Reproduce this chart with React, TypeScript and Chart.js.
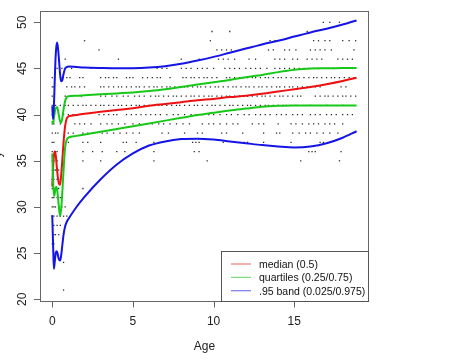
import { useEffect, useRef } from 'react';
import { Chart, registerables } from 'chart.js';

Chart.register(...registerables);

// ---- axis ticks / titles ----
const xTicks = [0, 5, 10, 15];
const yTicks = [20, 25, 30, 35, 40, 45, 50];
const xTitle = 'Age';
const yTitle = 'y';
const legendLabels = ['median (0.5)', 'quartiles (0.25/0.75)', '.95 band (0.025/0.975)'];

// ---- fitted quantile curves ----
const curveAge = [0, 0.05, 0.1, 0.15, 0.2, 0.25, 0.31, 0.4, 0.48, 0.54, 0.62, 0.7, 0.8, 0.9, 1.0, 1.5, 2, 3, 4, 5, 6, 7, 8, 9, 10, 11, 12, 13, 14, 15, 16, 17, 18, 18.86];
const q975 = [40.9, 39.5, 40.8, 43.5, 46.0, 47.3, 47.8, 46.3, 44.5, 43.6, 43.7, 44.4, 45.0, 45.15, 45.2, 45.15, 45.1, 45.05, 45.02, 45.03, 45.1, 45.25, 45.5, 45.85, 46.25, 46.7, 47.15, 47.6, 48.0, 48.45, 48.9, 49.3, 49.75, 50.2];
const q025 = [29.1, 26.0, 23.3, 24.0, 24.8, 25.2, 25.1, 24.4, 24.2, 24.6, 25.8, 27.0, 27.9, 28.4, 28.7, 30.0, 31.1, 33.0, 34.6, 35.8, 36.65, 37.1, 37.35, 37.4, 37.3, 37.1, 36.9, 36.7, 36.55, 36.45, 36.55, 36.9, 37.5, 38.2];
const q50 = [32.2, 34.2, 35.5, 36.0, 35.8, 35.0, 33.8, 32.6, 32.4, 33.2, 35.0, 37.0, 38.8, 39.6, 39.8, 39.95, 40.1, 40.3, 40.5, 40.7, 40.95, 41.15, 41.35, 41.55, 41.7, 41.9, 42.05, 42.25, 42.5, 42.75, 43.0, 43.3, 43.65, 44.0];
const q75 = [39.3, 39.0, 39.6, 40.2, 40.6, 40.8, 40.8, 40.0, 39.3, 39.1, 39.6, 40.6, 41.5, 41.9, 42.0, 42.05, 42.1, 42.2, 42.3, 42.4, 42.55, 42.75, 43.0, 43.25, 43.5, 43.75, 44.05, 44.3, 44.6, 44.85, 45.0, 45.02, 45.04, 45.05];
const q25 = [35.8, 33.0, 31.2, 31.4, 32.0, 32.2, 31.8, 30.2, 29.0, 29.6, 31.5, 34.0, 36.5, 37.3, 37.5, 37.7, 37.85, 38.15, 38.45, 38.75, 39.05, 39.35, 39.65, 39.95, 40.2, 40.45, 40.65, 40.85, 40.95, 41.0, 41.0, 41.0, 41.0, 41.0];

// ---- observations: ages recorded at each (integer) y value ----
const row50 = [16.8, 17.2, 17.8];
const row49 = [9.9, 11.0, 15.8];
const row48 = [2.0, 9.8, 13.5, 13.8, 16.2, 16.5, 16.9, 17.2, 18.0, 18.4, 18.8];
const row47 = [2.9, 10.2, 10.5, 10.8, 11.1, 13.4, 13.7, 14.4, 14.7, 15.1, 16.0, 16.3, 16.6, 16.9, 17.3, 18.7];
const row46 = [0.8, 4.1, 8.0, 9.1, 10.3, 10.6, 10.9, 11.3, 12.2, 12.6, 13.8, 14.1, 14.4, 14.9, 15.2, 15.8, 16.1, 16.4, 16.7, 17.7, 18.0, 18.3, 18.6];
const row45 = [0.3, 0.6, 1.2, 2.4, 3.5, 5.0, 6.5, 6.8, 7.1, 8.0, 8.3, 8.6, 9.0, 9.3, 9.6, 10.0, 10.7, 11.0, 11.3, 11.6, 12.0, 12.3, 12.6, 12.9, 13.3, 13.8, 14.1, 14.4, 14.7, 15.0, 15.3, 15.6, 15.9, 16.2, 16.5, 16.8, 17.1, 17.4, 17.7, 18.0, 18.3, 18.6];
const row44 = [0.0, 0.6, 0.9, 1.1, 1.7, 1.9, 3.0, 3.3, 3.5, 3.8, 4.0, 4.6, 4.8, 5.0, 5.6, 5.9, 6.2, 6.5, 6.7, 7.3, 8.1, 8.3, 8.6, 8.8, 9.1, 9.4, 9.6, 9.9, 10.2, 10.8, 11.0, 11.3, 11.6, 11.8, 12.1, 12.4, 12.6, 12.9, 13.2, 13.4, 13.7, 14.0, 14.2, 14.5, 14.8, 15.1, 15.3, 15.6, 15.9, 16.2, 16.4, 16.7, 17.0, 17.3, 17.5, 17.8, 18.1, 18.4, 18.7];
const row43 = [0.0, 0.1, 0.9, 1.2, 1.4, 1.7, 2.0, 3.0, 3.2, 3.5, 3.8, 4.1, 4.3, 4.6, 4.9, 5.2, 5.4, 5.7, 6.0, 6.3, 6.5, 6.8, 7.1, 7.3, 7.6, 7.9, 8.2, 8.4, 8.7, 9.0, 9.2, 9.5, 9.8, 10.1, 10.3, 10.6, 10.9, 11.2, 11.4, 11.7, 12.0, 12.2, 12.5, 12.8, 13.0, 13.3, 13.6, 13.9, 14.1, 14.4, 14.7, 14.9, 15.2, 15.5, 15.8, 16.0, 16.3, 16.6, 17.9, 18.2];
const row42 = [0.0, 0.8, 1.8, 3.0, 3.3, 3.7, 4.0, 4.4, 4.7, 5.1, 5.4, 5.7, 6.1, 6.4, 6.6, 6.9, 7.2, 7.5, 7.7, 8.0, 8.3, 8.6, 8.8, 9.1, 9.4, 9.7, 9.9, 10.2, 10.5, 10.8, 11.0, 11.3, 11.6, 11.9, 12.1, 12.4, 12.7, 13.0, 13.2, 13.5, 13.8, 14.1, 14.3, 14.6, 14.9, 15.2, 15.4, 16.3, 16.6, 16.9, 17.1, 17.4, 17.7, 18.0, 18.2, 18.5, 18.8];
const row41 = [0.0, 0.2, 0.5, 0.8, 1.0, 1.3, 1.6, 1.9, 2.1, 2.4, 2.7, 3.0, 3.2, 3.5, 3.8, 4.1, 4.3, 4.6, 4.9, 5.2, 5.4, 5.7, 6.0, 6.3, 6.6, 6.8, 7.1, 7.4, 7.7, 7.9, 8.2, 8.5, 8.8, 9.0, 9.3, 9.6, 9.9, 10.1, 10.4, 10.7, 11.0, 11.2, 11.5, 11.8, 12.1, 12.3, 12.6, 12.9, 13.2, 13.4, 13.7, 14.0, 14.3, 14.5, 14.8, 15.1, 16.0, 17.0, 18.0];
const row40 = [0.0, 0.7, 1.0, 1.3, 2.9, 3.2, 3.5, 3.8, 4.0, 4.6, 4.9, 5.2, 5.5, 5.8, 6.1, 6.4, 6.7, 7.1, 7.5, 7.8, 8.2, 8.6, 8.9, 9.3, 9.7, 10.0, 10.4, 10.8, 11.1, 11.5, 11.9, 12.2, 12.6, 12.9, 13.2, 13.5, 13.9, 14.2, 14.5, 14.9, 15.2, 15.5, 16.0, 16.3, 16.6, 17.0, 17.3, 17.6, 18.0, 18.3, 18.6];
const row39 = [0.0, 0.1, 0.5, 1.4, 1.7, 2.0, 2.4, 3.0, 3.4, 3.7, 4.1, 4.5, 5.0, 5.4, 5.8, 6.2, 6.6, 6.9, 7.3, 7.7, 8.1, 8.5, 9.3, 9.7, 10.0, 10.4, 10.8, 11.2, 11.5, 12.4, 12.8, 13.1, 14.0, 14.8, 15.1, 15.5, 15.9, 16.2, 16.5, 16.9, 17.2, 17.5, 18.0];
const row38 = [0.0, 0.2, 0.35, 1.0, 1.3, 1.9, 2.2, 2.5, 3.1, 3.4, 3.8, 4.2, 4.6, 5.0, 5.4, 6.8, 7.2, 8.2, 9.0, 9.3, 10.5, 10.8, 11.8, 13.1, 13.9, 14.1, 14.9, 15.3, 15.7, 16.0, 16.4, 16.8, 17.2, 17.7];
const row37 = [0.0, 0.1, 1.0, 1.9, 2.2, 3.0, 4.4, 4.6, 5.2, 6.3, 8.7, 8.9, 9.1, 10.6, 11.9, 12.1, 13.1, 14.8, 16.6, 16.8];
const row36 = [0.0, 0.2, 0.3, 1.9, 2.5, 3.1, 4.0, 4.5, 6.3, 8.8, 9.1, 15.9, 16.1, 16.3, 17.9];
const row35 = [0.0, 0.1, 0.3, 1.9, 3.0, 6.3, 9.6, 15.4, 17.8];
const row34 = [0.0, 0.1, 0.2, 0.4, 0.6];
const row33 = [0.0, 0.1, 0.3, 0.5];
const row32 = [0.0, 0.1, 0.2, 0.4, 1.9];
const row31 = [0.0, 0.1, 0.3, 0.5];
const row30 = [0.0, 0.1, 0.2, 0.4, 0.6, 0.8];
const row29 = [0.0, 0.1, 0.3, 0.5, 0.7, 0.9];
const row28 = [0.1, 0.3, 0.5];
const row27 = [0.1, 0.2, 0.4];
const row26 = [0.0, 0.1];
const row25 = [0.1];
const row24 = [0.7];
const row21 = [0.7];

const scatterRows: [number, number[]][] = [
  [50, row50], [49, row49], [48, row48], [47, row47], [46, row46], [45, row45],
  [44, row44], [43, row43], [42, row42], [41, row41], [40, row40], [39, row39],
  [38, row38], [37, row37], [36, row36], [35, row35], [34, row34], [33, row33],
  [32, row32], [31, row31], [30, row30], [29, row29], [28, row28], [27, row27],
  [26, row26], [25, row25], [24, row24], [21, row21],
];

const FONT = '"Liberation Sans", Arial, Helvetica, sans-serif';

export default function App() {
  const ref = useRef<HTMLCanvasElement>(null);

  useEffect(() => {
    const canvas = ref.current;
    if (!canvas) return;

    const scatterData = scatterRows.flatMap(([y, xs]) => xs.map((x) => ({ x, y })));
    const curve = (ys: number[]) => curveAge.map((x, i) => ({ x, y: ys[i] }));
    const lineDs = (label: string, ys: number[], color: string, order: number) => ({
      label,
      data: curve(ys),
      showLine: true,
      borderColor: color,
      backgroundColor: color,
      borderWidth: 2,
      pointRadius: 0,
      cubicInterpolationMode: 'monotone' as const,
      order,
    });

    const overlay = {
      id: 'rOverlay',
      afterDraw(chart: any) {
        const ctx: CanvasRenderingContext2D = chart.ctx;
        const { left, top, right, bottom } = chart.chartArea;
        const xs = chart.scales.x;
        const ys = chart.scales.y;
        ctx.save();
        // box
        ctx.strokeStyle = '#666';
        ctx.lineWidth = 1;
        ctx.strokeRect(left + 0.5, top + 0.5, right - left - 1, bottom - top - 1);
        // tick marks
        ctx.beginPath();
        for (const v of xTicks) {
          const p = Math.round(xs.getPixelForValue(v)) + 0.5;
          ctx.moveTo(p, bottom - 0.5);
          ctx.lineTo(p, bottom + 5.5);
        }
        for (const v of yTicks) {
          const p = Math.round(ys.getPixelForValue(v)) + 0.5;
          ctx.moveTo(left + 0.5, p);
          ctx.lineTo(left - 6, p);
        }
        ctx.stroke();
        // tick labels
        ctx.fillStyle = '#222';
        ctx.font = `12px ${FONT}`;
        ctx.textAlign = 'center';
        ctx.textBaseline = 'alphabetic';
        for (const v of xTicks) ctx.fillText(String(v), xs.getPixelForValue(v), bottom + 23);
        for (const v of yTicks) {
          ctx.save();
          ctx.translate(left - 14, ys.getPixelForValue(v));
          ctx.rotate(-Math.PI / 2);
          ctx.fillText(String(v), 0, 0);
          ctx.restore();
        }
        // axis titles
        ctx.fillText(xTitle, (left + right) / 2, bottom + 48);
        ctx.save();
        ctx.translate(0.5, (top + bottom) / 2 - 2);
        ctx.rotate(-Math.PI / 2);
        ctx.fillText(yTitle, 0, 0);
        ctx.restore();
        // legend
        const lw = 147;
        const lh = 50;
        const lx0 = right - 0.5 - lw;
        const ly0 = bottom - 0.5 - lh;
        ctx.fillStyle = '#fff';
        ctx.fillRect(lx0, ly0, lw, lh);
        ctx.strokeStyle = '#555';
        ctx.strokeRect(lx0, ly0, lw, lh);
        const legendColors = ['#ef7a7a', '#78d878', '#7a7aef'];
        ctx.font = `10.5px ${FONT}`;
        ctx.textAlign = 'left';
        legendLabels.forEach((lab, i) => {
          const ry = ly0 + 12.5 + i * 13.35;
          ctx.strokeStyle = legendColors[i];
          ctx.lineWidth = 1.2;
          ctx.beginPath();
          ctx.moveTo(lx0 + 9.5, ry);
          ctx.lineTo(lx0 + 29.5, ry);
          ctx.stroke();
          ctx.fillStyle = '#111';
          ctx.fillText(lab, lx0 + 37.5, ry + 4);
        });
        ctx.restore();
      },
    };

    const chart = new Chart(canvas, {
      type: 'scatter',
      data: {
        datasets: [
          lineDs('q975', q975, '#1414e6', 1),
          lineDs('q025', q025, '#1414e6', 1),
          lineDs('q75', q75, '#18c818', 2),
          lineDs('q25', q25, '#18c818', 2),
          lineDs('q50', q50, '#ee1010', 3),
          {
            label: 'obs',
            data: scatterData,
            pointStyle: 'rect',
            pointRadius: 0.9,
            pointBorderWidth: 0,
            backgroundColor: 'rgba(0,0,0,0.85)',
            borderColor: 'rgba(0,0,0,0)',
            order: 10,
          } as any,
        ],
      },
      options: {
        responsive: false,
        animation: false,
        devicePixelRatio: 1,
        events: [],
        layout: { padding: { left: 40, top: 11, right: 105, bottom: 60 } },
        plugins: { legend: { display: false }, tooltip: { enabled: false } },
        scales: {
          x: { type: 'linear', display: false, min: -0.76, max: 19.63 },
          y: { type: 'linear', display: false, min: 19.71, max: 51.22 },
        },
      },
      plugins: [overlay],
    });

    return () => chart.destroy();
  }, []);

  return (
    <div style={{ position: 'absolute', left: 0, top: 0, width: 474, height: 362, background: '#fff' }}>
      <canvas ref={ref} width={474} height={362} style={{ display: 'block' }} />
    </div>
  );
}
